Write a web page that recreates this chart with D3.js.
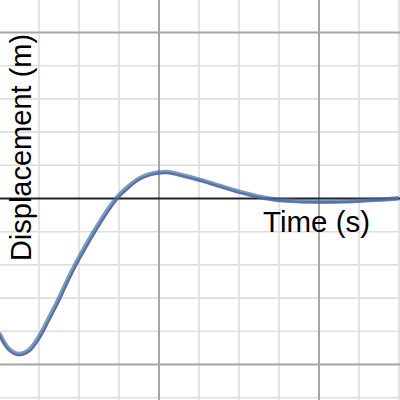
<!DOCTYPE html>
<html>
<head>
<meta charset="utf-8">
<script src="https://cdn.jsdelivr.net/npm/d3@7"></script>
<style>
  html, body { margin: 0; padding: 0; background: #fff; }
  svg { display: block; }
</style>
</head>
<body>
<div id="chart"></div>
<script>
var width = 400,
    height = 400;

// time samples (s)
var time = [0, 0.125, 0.25, 0.375, 0.5, 0.625, 0.75, 0.875, 1.0, 1.125, 1.25, 1.375,
            1.5, 1.625, 1.75, 1.875, 2.0, 2.125, 2.25, 2.5, 2.75, 3.0, 3.25, 3.5,
            3.75, 4.0, 4.25, 4.5, 4.75, 5.0];

// model curve (blue), displacement in m
var model = [-0.81, -0.907, -0.937, -0.913, -0.834, -0.72, -0.602, -0.473, -0.357, -0.25,
             -0.151, -0.058, 0.019, 0.075, 0.12, 0.145, 0.157, 0.158, 0.145, 0.114,
             0.078, 0.041, 0.011, -0.009, -0.016, -0.019, -0.018, -0.014, -0.007, 0.001];

// measured curve (red), sits a hair under the blue one
var measured = [-0.818, -0.914, -0.944, -0.923, -0.847, -0.735, -0.617, -0.488, -0.371, -0.264,
                -0.164, -0.07, 0.009, 0.066, 0.112, 0.139, 0.152, 0.153, 0.14, 0.109,
                0.073, 0.036, 0.007, -0.013, -0.02, -0.022, -0.021, -0.017, -0.01, -0.002];

// grid
var xMinor = [0.5, 1, 1.5, 2.5, 3, 3.5, 4.5, 5];
var xMajor = [0, 2, 4];
var yMinor = [-1.2, -0.8, -0.6, -0.4, -0.2, 0.2, 0.4, 0.6, 0.8];
var yMajor = [-1, 1];

var x = d3.scaleLinear().domain([0, 5]).range([-1, 399]);
var y = d3.scaleLinear().domain([-1.214, 1.196]).range([height, 0]);

var svg = d3.select("#chart")
    .append("svg")
    .attr("width", width)
    .attr("height", height);

function vlines(vals, color, w) {
    svg.append("g").selectAll("line")
        .data(vals)
        .enter().append("line")
        .attr("x1", d => x(d)).attr("x2", d => x(d))
        .attr("y1", 0).attr("y2", height)
        .attr("stroke", color)
        .attr("stroke-width", w);
}
function hlines(vals, color, w) {
    svg.append("g").selectAll("line")
        .data(vals)
        .enter().append("line")
        .attr("y1", d => y(d)).attr("y2", d => y(d))
        .attr("x1", 0).attr("x2", width)
        .attr("stroke", color)
        .attr("stroke-width", w);
}

vlines(xMinor, "#dedede", 1.6);
hlines(yMinor, "#dedede", 1.6);
vlines(xMajor, "#a6a6a6", 2);
hlines(yMajor, "#a6a6a6", 2);

// x axis
svg.append("line")
    .attr("x1", 0).attr("x2", width)
    .attr("y1", y(0)).attr("y2", y(0))
    .attr("stroke", "#222")
    .attr("stroke-width", 2);

var line = d3.line()
    .x(d => x(d[0]))
    .y(d => y(d[1]))
    .curve(d3.curveCatmullRom.alpha(0.5));

svg.append("path")
    .datum(time.map((t, i) => [t, measured[i]]))
    .attr("fill", "none")
    .attr("stroke", "#c74440")
    .attr("stroke-opacity", 0.8)
    .attr("stroke-width", 2.2)
    .attr("d", line);

svg.append("path")
    .datum(time.map((t, i) => [t, model[i]]))
    .attr("fill", "none")
    .attr("stroke", "#2d70b3")
    .attr("stroke-opacity", 0.68)
    .attr("stroke-width", 4.5)
    .attr("d", line);

// labels
svg.append("text")
    .attr("x", 263)
    .attr("y", 232)
    .style("font-family", "'Liberation Sans', Arial, sans-serif")
    .style("font-size", "29.5px")
    .attr("fill", "#000")
    .text("Time (s)");

svg.append("text")
    .attr("transform", "translate(31,147.5) rotate(-90)")
    .attr("text-anchor", "middle")
    .style("font-family", "'Liberation Sans', Arial, sans-serif")
    .style("font-size", "29px")
    .attr("fill", "#000")
    .text("Displacement (m)");
</script>
</body>
</html>
